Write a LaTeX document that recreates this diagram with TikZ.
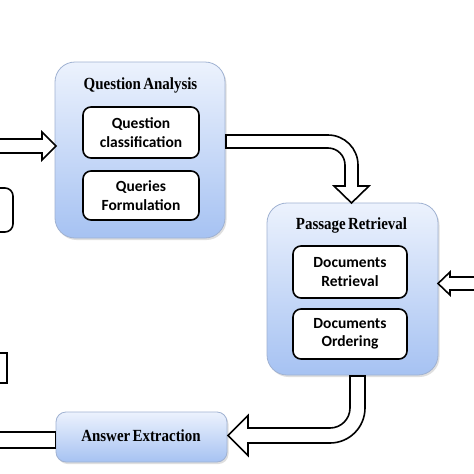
\documentclass[tikz,border=0pt]{standalone}
\usepackage{fontspec}
\setmainfont{Liberation Serif}
\newfontfamily\calfont{Carlito}
\newfontfamily\titlefont[FakeStretch=0.88, WordSpace=0.6]{Liberation Serif}
\usetikzlibrary{shadows}
\definecolor{boxtop}{RGB}{236,242,253}
\definecolor{boxbot}{RGB}{166,194,242}
\definecolor{boxline}{RGB}{160,178,210}
\tikzset{
 bigbox/.style={draw=boxline, line width=0.8pt, rounded corners=20pt, top color=boxtop, bottom color=boxbot,
   drop shadow={shadow xshift=1.5pt, shadow yshift=-2pt, opacity=0.25}, inner sep=0pt},
 inbox/.style={draw=black, line width=1.6pt, rounded corners=8pt, fill=white, inner sep=0pt, align=center,
   font=\calfont\bfseries\fontsize{15.5}{18.5}\selectfont},
 titletext/.style={font=\titlefont\bfseries\fontsize{17}{19}\selectfont, anchor=base, inner sep=0pt},
 barrow/.style={draw=black, line width=1.6pt, fill=white, line join=miter},
}
\begin{document}
\begin{tikzpicture}[x=1pt,y=-1pt]
\useasboundingbox (0,0) rectangle (474,474);
\fill[white] (0,0) rectangle (474,474);
% partial boxes at the left edge
\node[inbox, minimum width=30pt, minimum height=44pt] (l1) at (-2,210) {};
\node[inbox, rounded corners=0pt, minimum width=30pt, minimum height=30pt] (l2) at (-8,368) {};
% Question Analysis
\node[bigbox, minimum width=170pt, minimum height=176pt] (qa) at (140,150) {};
\node[titletext] (qat) at (140.5,89) {Question Analysis};
\node[inbox, minimum width=116pt, minimum height=51pt] (qc) at (141,132.5) {Question\\classification};
\node[inbox, minimum width=116pt, minimum height=49pt] (qf) at (141,195.5) {Queries\\Formulation};
% Passage Retrieval
\node[bigbox, minimum width=171pt, minimum height=172pt] (pr) at (352.5,289) {};
\node[titletext] (prt) at (351.5,229) {Passage Retrieval};
\node[inbox, minimum width=114pt, minimum height=52pt] (dr) at (350,272) {Documents\\Retrieval};
\node[inbox, minimum width=114pt, minimum height=50pt] (dord) at (350,334) {Documents\\Ordering};
% Answer Extraction
\node[bigbox, rounded corners=10pt, minimum width=171pt, minimum height=50pt] (ae) at (141.5,437) {};
\node[titletext] (aet) at (141,441.7) {Answer Extraction};
% block arrows
\draw[barrow] (-5,139) -- (42,139) -- (42,132) -- (56,146) -- (42,160) -- (42,153) -- (-5,153) -- cycle;
\draw[barrow] (480,277) -- (450,277) -- (450,272) -- (438,283.5) -- (450,295) -- (450,290) -- (480,290) -- cycle;
\draw[barrow] (226,135) -- (328,135) arc[start angle=-90, end angle=0, radius=30] -- (358,186) -- (369,186)
   -- (351.5,203) -- (334,186) -- (345,186) -- (345,165) arc[start angle=0, end angle=-90, radius=17]
   -- (226,148) -- cycle;
\draw[barrow] (350,376) -- (365,376) -- (365,408) arc[start angle=0, end angle=90, radius=35]
   -- (248,443) -- (248,455.5) -- (228,435.5) -- (248,415.5) -- (248,428) -- (330,428)
   arc[start angle=90, end angle=0, radius=20] -- cycle;
\draw[barrow] (-5,432) rectangle (55.5,448);
\end{tikzpicture}
\end{document}
